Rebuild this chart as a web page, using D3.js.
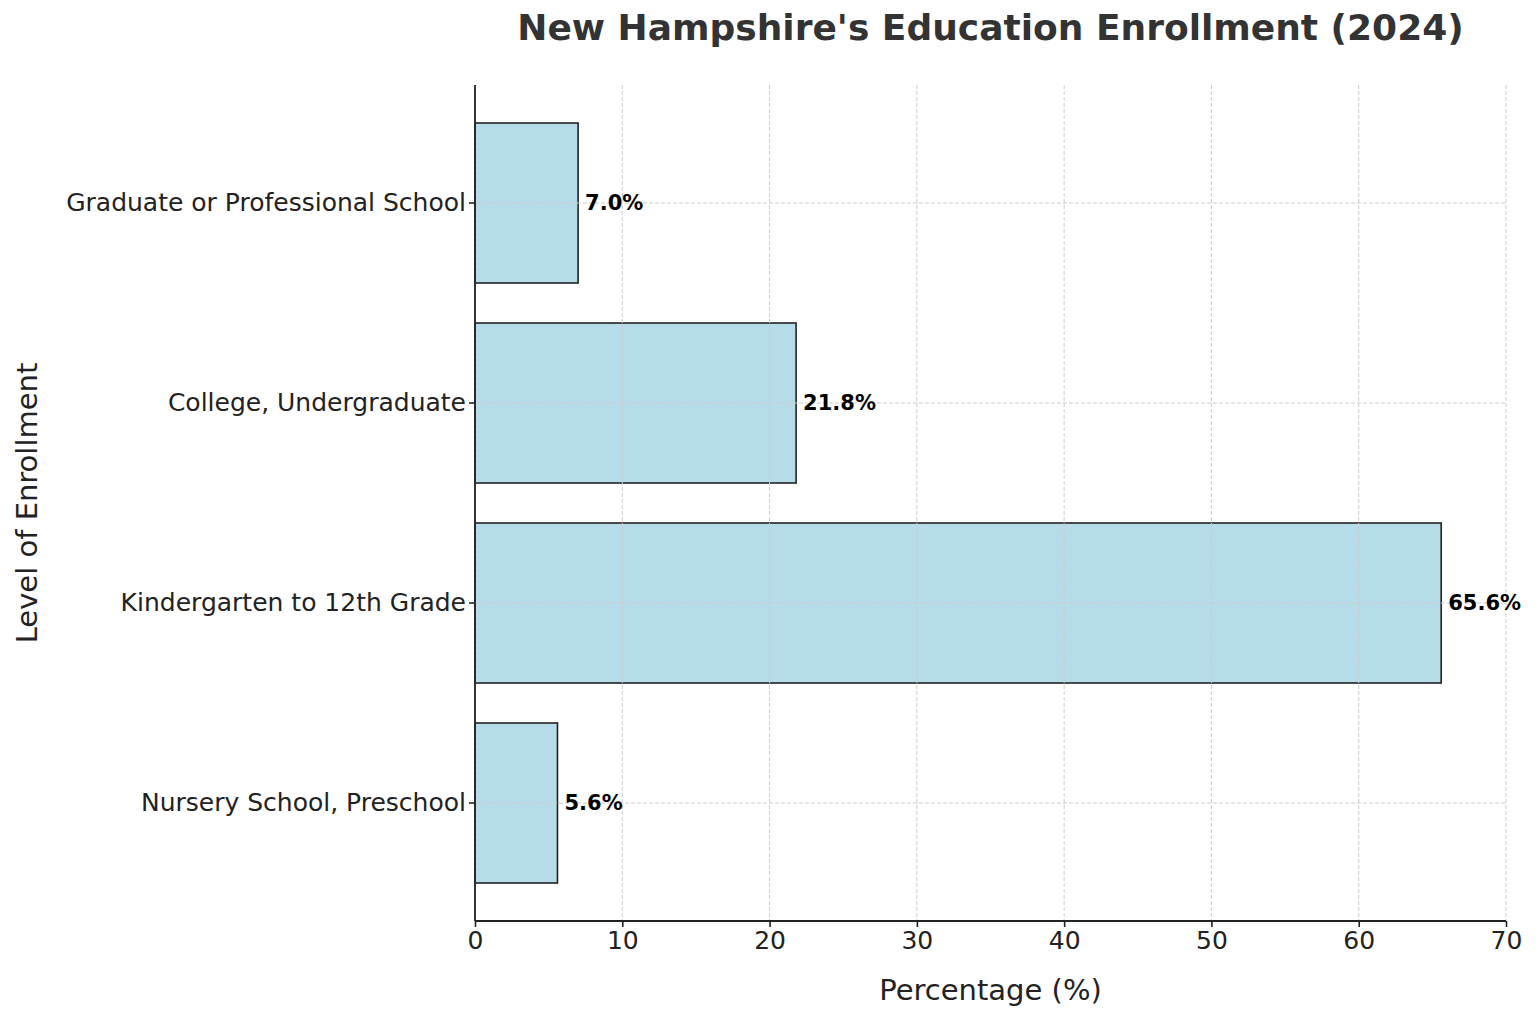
<!DOCTYPE html>
<html>
<head>
<meta charset="utf-8">
<script src="https://cdn.jsdelivr.net/npm/d3@7"></script>
<style>
  body { margin: 0; background: #fff; }
  svg text { font-family: "DejaVu Sans", sans-serif; }
</style>
</head>
<body>
<div id="chart"></div>
<script>
// Data ------------------------------------------------
const categories = ["Graduate or Professional School", "College, Undergraduate",
                    "Kindergarten to 12th Grade", "Nursery School, Preschool"];
const percentages = [7.0, 21.8, 65.6, 5.6];
const xTicks = [0, 10, 20, 30, 40, 50, 60, 70];

// Layout ----------------------------------------------
var width = 1536, height = 1019;
var margin = {top: 85, right: 30, bottom: 98, left: 475};
var plotW = 1506 - margin.left,
    plotH = 921 - margin.top;

var svg = d3.select("#chart").append("svg")
    .attr("width", width)
    .attr("height", height);

var g = svg.append("g")
    .attr("transform", `translate(${margin.left},${margin.top})`);

var x = d3.scaleLinear().domain([0, 70]).range([0, plotW]);
var y = d3.scaleBand().domain(categories).range([0, plotH])
    .paddingInner(0.2).paddingOuter(0.19);

// Bars
g.selectAll("rect.bar")
    .data(categories)
    .enter().append("rect")
    .attr("class", "bar")
    .attr("x", x(0))
    .attr("y", d => y(d))
    .attr("width", (d, i) => x(percentages[i]) - x(0))
    .attr("height", y.bandwidth())
    .attr("fill", "#add8e6")
    .attr("fill-opacity", 0.9)
    .attr("stroke", "#222")
    .attr("stroke-width", 1.6);

// Grid (drawn on top of bars, like the original)
g.selectAll("line.vgrid")
    .data(xTicks)
    .enter().append("line")
    .attr("x1", d => x(d)).attr("x2", d => x(d))
    .attr("y1", 0).attr("y2", plotH)
    .attr("stroke", "#ccc").attr("stroke-width", 1)
    .attr("stroke-dasharray", "4,2");
g.selectAll("line.hgrid")
    .data(categories)
    .enter().append("line")
    .attr("x1", 0).attr("x2", plotW)
    .attr("y1", d => y(d) + y.bandwidth() / 2)
    .attr("y2", d => y(d) + y.bandwidth() / 2)
    .attr("stroke", "#ccc").attr("stroke-width", 1)
    .attr("stroke-dasharray", "4,2");

// Value labels
g.selectAll("text.val")
    .data(categories)
    .enter().append("text")
    .attr("class", "val")
    .attr("x", (d, i) => x(percentages[i]) + 7)
    .attr("y", d => y(d) + y.bandwidth() / 2)
    .attr("dy", "0.35em")
    .attr("font-size", "21px")
    .attr("font-weight", "bold")
    .attr("fill", "#000")
    .text((d, i) => percentages[i].toFixed(1) + "%");

// Axes
var xAxis = g.append("g")
    .attr("transform", `translate(0,${plotH})`)
    .call(d3.axisBottom(x).tickValues(xTicks).tickSize(6).tickPadding(4));
var yAxis = g.append("g")
    .call(d3.axisLeft(y).tickSize(6).tickPadding(3));

[xAxis, yAxis].forEach(a => {
    a.select(".domain").attr("stroke", "#222").attr("stroke-width", 1.8);
    a.selectAll(".tick line").attr("stroke", "#222").attr("stroke-width", 1.6);
    a.selectAll(".tick text")
        .attr("fill", "#222")
        .attr("font-size", "25px")
        .style("font-family", "DejaVu Sans, sans-serif");
});
// remove outer tick ends of the band axis domain
yAxis.select(".domain").attr("d", `M0,0V${plotH}`);
xAxis.select(".domain").attr("d", `M0,0H${plotW}`);

// Axis labels & title
svg.append("text")
    .attr("x", margin.left + plotW / 2)
    .attr("y", 1000)
    .attr("text-anchor", "middle")
    .attr("font-size", "29px")
    .attr("fill", "#222")
    .text("Percentage (%)");

svg.append("text")
    .attr("transform", `translate(37,${margin.top + plotH / 2}) rotate(-90)`)
    .attr("text-anchor", "middle")
    .attr("font-size", "29px")
    .attr("fill", "#222")
    .text("Level of Enrollment");

svg.append("text")
    .attr("x", margin.left + plotW / 2)
    .attr("y", 40)
    .attr("text-anchor", "middle")
    .attr("font-size", "36px")
    .attr("font-weight", "bold")
    .attr("fill", "#333")
    .text("New Hampshire's Education Enrollment (2024)");
</script>
</body>
</html>
